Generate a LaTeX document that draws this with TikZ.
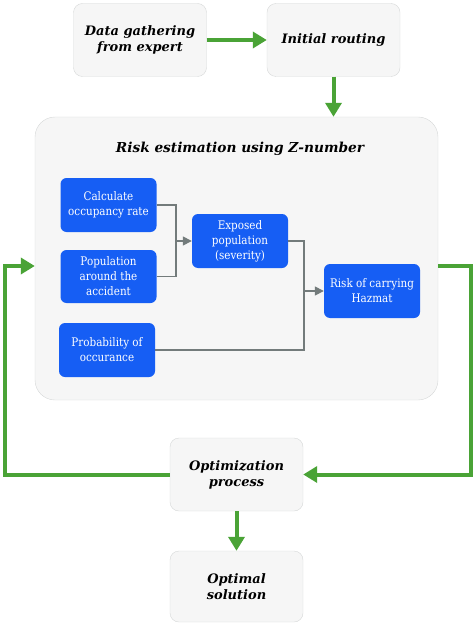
\documentclass[tikz,border=0pt]{standalone}
\usepackage{fontspec}
\setmainfont{DejaVu Serif}
\newfontfamily\blockfont[FakeStretch=0.88]{DejaVu Serif}
\usetikzlibrary{arrows.meta, positioning}

\definecolor{boxblue}{RGB}{22,94,244}
\definecolor{flowgreen}{RGB}{74,163,54}
\definecolor{linegray}{RGB}{115,123,123}
\definecolor{panelfill}{RGB}{246,246,246}
\definecolor{paneledge}{RGB}{214,216,216}

\begin{document}
\begin{tikzpicture}[x=1pt, y=-1pt,
  stage/.style={rectangle, rounded corners=9pt, draw=paneledge, fill=panelfill,
    align=center, font=\fontsize{13}{16}\selectfont\bfseries\itshape,
    minimum width=133pt, minimum height=73pt, inner sep=2pt},
  block/.style={rectangle, rounded corners=6pt, fill=boxblue, text=white,
    align=center, font=\blockfont\fontsize{11.8}{15}\selectfont,
    minimum width=96pt, minimum height=54pt, inner sep=1pt},
  flow/.style={draw=flowgreen, line width=4pt, -{Triangle[length=14pt,width=16pt]}},
  link/.style={draw=linegray, line width=1.5pt, -{Triangle[length=9pt,width=9pt]}}]

\useasboundingbox (0,0) rectangle (474,631);

% top row
\node (data)[stage] at (140,40) {Data gathering\\from expert};
\node (init)[stage] at (333.5,40) {Initial routing};

% risk estimation panel
\node (est)[rectangle, rounded corners=20pt, draw=paneledge, fill=panelfill,
  minimum width=403pt, minimum height=283pt] at (236.5,258.5) {};
\node (title)[font=\fontsize{13.7}{16}\selectfont\bfseries\itshape] at (240,149)
  {Risk estimation using Z-number};

\node (calc)[block] at (108.5,205) {Calculate\\occupancy rate};
\node (popu)[block, minimum height=53pt] at (108.5,276.5) {Population\\around the\\accident};
\node (prob)[block] at (107,350) {Probability of\\occurance};
\node (expo)[block] at (240,241) {Exposed\\population\\(severity)};
\node (risk)[block] at (372,291) {Risk of carrying\\Hazmat};

% bottom
\node (opti)[stage] at (236.5,474.5) {Optimization\\process};
\node (sol)[stage, minimum height=71pt] at (236.5,586.5) {Optimal\\solution};

% gray connectors
\coordinate (j1) at (176,241);
\coordinate (j2) at (304,291);
\draw[draw=linegray, line width=1.5pt] (calc.east) -| (j1);
\draw[draw=linegray, line width=1.5pt] (popu.east) -| (j1);
\draw[link] (j1) -- (expo.west);
\draw[draw=linegray, line width=1.5pt] (expo.east) -| (j2);
\draw[draw=linegray, line width=1.5pt] (prob.east) -| (j2);
\draw[link] (j2) -- (risk.west);

% green flow
\coordinate (lc) at (5,266);
\coordinate (rc) at (471,266);
\draw[flow] (data.east) -- (init.west);
\draw[flow] (init.south) -- (init.south |- est.north);
\draw[flow] (opti.west) -| (lc) -- (est.west |- lc);
\draw[flow] (est.east |- rc) -- (rc) |- (opti.east);
\draw[flow] (opti.south) -- (sol.north);
\end{tikzpicture}
\end{document}
